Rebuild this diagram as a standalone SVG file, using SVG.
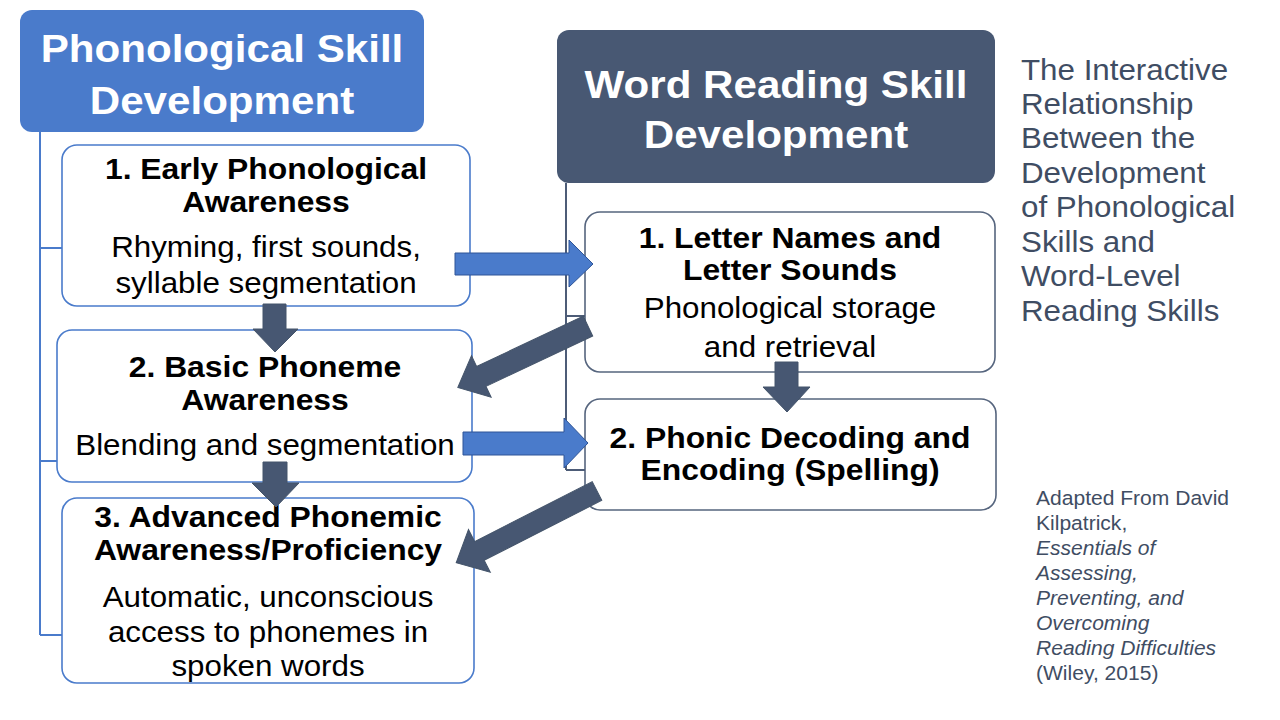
<svg xmlns="http://www.w3.org/2000/svg" width="1280" height="720" viewBox="0 0 1280 720">
<style>
text{font-family:"Liberation Sans",Arial,Helvetica,sans-serif}
.hd{font-weight:bold;font-size:39px;fill:#ffffff;text-anchor:middle}
.tt{font-weight:bold;font-size:29.5px;fill:#000000;text-anchor:middle}
.bd{font-size:29px;fill:#000000;text-anchor:middle}
.side{font-size:29px;fill:#3f4d63}
.cite{font-size:19.5px;fill:#3f4d63}
.it{font-style:italic}
.lbox{fill:#ffffff;stroke:#4a7bcb;stroke-width:1.6}
.rbox{fill:#ffffff;stroke:#56657e;stroke-width:1.6}
.lline{fill:none;stroke:#4a7bcb;stroke-width:2}
.rline{fill:none;stroke:#4d5c77;stroke-width:2}
.barrow{fill:#4a7bcb;stroke:#2f5597;stroke-width:1}
.darrow{fill:#475772;stroke:#44546a;stroke-width:1}
</style>
<rect width="1280" height="720" fill="#ffffff"/>

<g id="phonological-header">
<rect x="20" y="10" width="404" height="122" rx="12" fill="#4a7bcb"/>
<text class="hd" transform="translate(222 0) scale(1.08 1)" x="0" y="62">Phonological Skill</text>
<text class="hd" transform="translate(222 0) scale(1.08 1)" x="0" y="114">Development</text>
</g>

<g id="word-reading-header">
<rect x="557" y="30" width="438" height="153" rx="12" fill="#485873"/>
<text class="hd" transform="translate(776 0) scale(1.08 1)" x="0" y="98">Word Reading Skill</text>
<text class="hd" transform="translate(776 0) scale(1.08 1)" x="0" y="148">Development</text>
</g>

<g id="early-phonological-awareness">
<rect class="lbox" x="62" y="145" width="408" height="161" rx="15"/>
<text class="tt" transform="translate(266 0) scale(1.08 1)" x="0" y="179">1. Early Phonological</text>
<text class="tt" transform="translate(266 0) scale(1.08 1)" x="0" y="212">Awareness</text>
<text class="bd" transform="translate(266 0) scale(1.08 1)" x="0" y="257">Rhyming, first sounds,</text>
<text class="bd" transform="translate(266 0) scale(1.08 1)" x="0" y="293">syllable segmentation</text>
</g>

<g id="basic-phoneme-awareness">
<rect class="lbox" x="57" y="330" width="415" height="152" rx="15"/>
<text class="tt" transform="translate(265 0) scale(1.08 1)" x="0" y="377">2. Basic Phoneme</text>
<text class="tt" transform="translate(265 0) scale(1.08 1)" x="0" y="410">Awareness</text>
<text class="bd" transform="translate(265 0) scale(1.08 1)" x="0" y="455">Blending and segmentation</text>
</g>

<g id="advanced-phonemic-awareness">
<rect class="lbox" x="62" y="498" width="412" height="185" rx="15"/>
<text class="tt" transform="translate(268 0) scale(1.08 1)" x="0" y="527">3. Advanced Phonemic</text>
<text class="tt" transform="translate(268 0) scale(1.08 1)" x="0" y="560">Awareness/Proficiency</text>
<text class="bd" transform="translate(268 0) scale(1.08 1)" x="0" y="607">Automatic, unconscious</text>
<text class="bd" transform="translate(268 0) scale(1.08 1)" x="0" y="642">access to phonemes in</text>
<text class="bd" transform="translate(268 0) scale(1.08 1)" x="0" y="676">spoken words</text>
</g>

<g id="letter-names-sounds">
<rect class="rbox" x="585" y="212" width="410" height="160" rx="15"/>
<text class="tt" transform="translate(790 0) scale(1.08 1)" x="0" y="248">1. Letter Names and</text>
<text class="tt" transform="translate(790 0) scale(1.08 1)" x="0" y="280">Letter Sounds</text>
<text class="bd" transform="translate(790 0) scale(1.08 1)" x="0" y="318">Phonological storage</text>
<text class="bd" transform="translate(790 0) scale(1.08 1)" x="0" y="357">and retrieval</text>
</g>

<g id="phonic-decoding-encoding">
<rect class="rbox" x="585" y="399" width="411" height="111" rx="15"/>
<text class="tt" transform="translate(790 0) scale(1.08 1)" x="0" y="448">2. Phonic Decoding and</text>
<text class="tt" transform="translate(790 0) scale(1.08 1)" x="0" y="480">Encoding (Spelling)</text>
</g>

<g id="title-text">
<text class="side" transform="translate(1021 0) scale(1.08 1)" x="0" y="80">The Interactive</text>
<text class="side" transform="translate(1021 0) scale(1.08 1)" x="0" y="114">Relationship</text>
<text class="side" transform="translate(1021 0) scale(1.08 1)" x="0" y="148">Between the</text>
<text class="side" transform="translate(1021 0) scale(1.08 1)" x="0" y="183">Development</text>
<text class="side" transform="translate(1021 0) scale(1.08 1)" x="0" y="217">of Phonological</text>
<text class="side" transform="translate(1021 0) scale(1.08 1)" x="0" y="252">Skills and</text>
<text class="side" transform="translate(1021 0) scale(1.08 1)" x="0" y="286">Word-Level</text>
<text class="side" transform="translate(1021 0) scale(1.08 1)" x="0" y="321">Reading Skills</text>
</g>

<g id="citation">
<text class="cite" transform="translate(1036 0) scale(1.08 1)" x="0" y="505">Adapted From David</text>
<text class="cite" transform="translate(1036 0) scale(1.08 1)" x="0" y="530">Kilpatrick,</text>
<text class="cite it" transform="translate(1036 0) scale(1.08 1)" x="0" y="555">Essentials of</text>
<text class="cite it" transform="translate(1036 0) scale(1.08 1)" x="0" y="580">Assessing,</text>
<text class="cite it" transform="translate(1036 0) scale(1.08 1)" x="0" y="605">Preventing, and</text>
<text class="cite it" transform="translate(1036 0) scale(1.08 1)" x="0" y="630">Overcoming</text>
<text class="cite it" transform="translate(1036 0) scale(1.08 1)" x="0" y="655">Reading Difficulties</text>
<text class="cite" transform="translate(1036 0) scale(1.08 1)" x="0" y="680">(Wiley, 2015)</text>
</g>

<g id="connectors">
<path class="lline" d="M40 132 V635 M40 248 H62 M40 461 H57 M40 635 H62"/>
<path class="rline" d="M566 183 V470 M566 316 H585 M566 470 H585"/>
<polygon class="barrow" points="455,253 569,253 569,240 593,264 569,287 569,275 455,275"/>
<polygon class="barrow" points="463,432 564,432 564,418 588,443 564,468 564,455 463,455"/>
<polygon class="darrow" points="263,304 286,304 286,329 298,329 275,352 253,329 263,329"/>
<polygon class="darrow" points="263,462 287,462 287,483 299,483 276,507 252,483 263,483"/>
<polygon class="darrow" points="775,362 798,362 798,387 810,387 787,412 763,387 775,387"/>
<polygon class="darrow" transform="translate(588 326) rotate(154.7)" points="0,-11 118,-11 118,-23 144,0 118,23 118,11 0,11"/>
<polygon class="darrow" transform="translate(597 491) rotate(153)" points="0,-10.5 132,-10.5 132,-24 158,0 132,24 132,10.5 0,10.5"/>
</g>
</svg>
